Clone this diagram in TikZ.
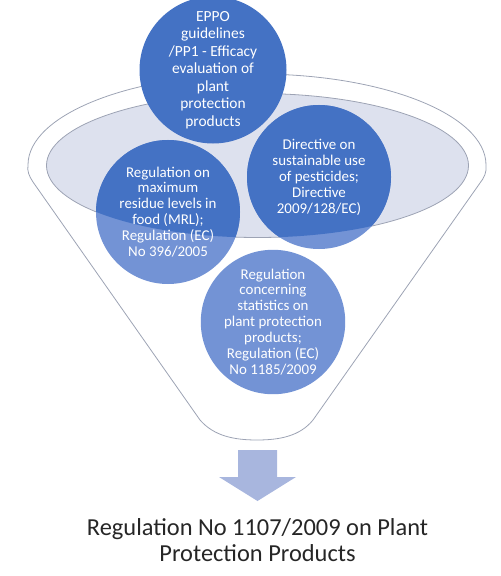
\documentclass[tikz,border=0pt]{standalone}
\usepackage{fontspec}
\setmainfont{Carlito}
\usepackage{tikz}
\usetikzlibrary{positioning}
\definecolor{darkblue}{HTML}{4472C4}
\definecolor{lightblue}{HTML}{7393D5}
\definecolor{rimfill}{HTML}{DDE1EE}
\definecolor{rimline}{HTML}{9DA3B4}
\definecolor{arrowblue}{HTML}{A8B6DE}
\definecolor{captext}{HTML}{262626}

\begin{document}
\begin{tikzpicture}[x=1bp,y=1bp,
  bubble/.style={circle,fill=lightblue,text=white,minimum size=144bp,inner sep=0pt,align=center,font=\fontsize{15}{16}\selectfont},
  inrim/.style={path picture={\fill[darkblue] (rim) ellipse [x radius=211bp,y radius=72bp];}},
  funnel/.style={draw=rimline,line width=0.8bp}]
  \useasboundingbox (0,0) rectangle (501,-576);
  \coordinate (rim) at (257.5,-165.5);
  \draw[funnel] (28,-165) arc[start angle=180,end angle=0,x radius=229,y radius=91]
    .. controls (487,-172) and (484,-178) .. (480,-183) -- (313,-420)
    .. controls (300,-436) and (280,-440) .. (257,-440)
    .. controls (234,-440) and (214,-436) .. (200,-420) -- (33,-182)
    .. controls (29,-176) and (27,-171) .. cycle;
  \draw[funnel,fill=rimfill] (rim) ellipse [x radius=211,y radius=72];
  \node[bubble,fill=darkblue,font=\fontsize{15.5}{17.6}\selectfont] (eppo) at (213,-70)
    {EPPO\\guidelines\\/PP1 - Efficacy\\evaluation of\\plant\\protection\\products};
  \node[bubble,inrim] (sud) at (319,-177)
    {Directive on\\sustainable use\\of pesticides;\\Directive\\2009/128/EC)};
  \node[bubble,inrim] (mrl) at (168,-212)
    {Regulation on\\maximum\\residue levels in\\food (MRL);\\Regulation (EC)\\No 396/2005};
  \node[bubble] (stat) at (273,-322)
    {Regulation\\concerning\\statistics on\\plant protection\\products;\\Regulation (EC)\\No 1185/2009};
  \coordinate (tip) at (257.5,-501);
  \fill[arrowblue] (238,-450) -- (277,-450) -- (277,-477) -- (296,-477) -- (tip) -- (219,-477) -- (238,-477) -- cycle;
  \node[text=captext,align=center,font=\fontsize{24.5}{26.5}\selectfont] (ppp) at (257.5,-540)
    {Regulation No 1107/2009 on Plant\\Protection Products};
\end{tikzpicture}
\end{document}
